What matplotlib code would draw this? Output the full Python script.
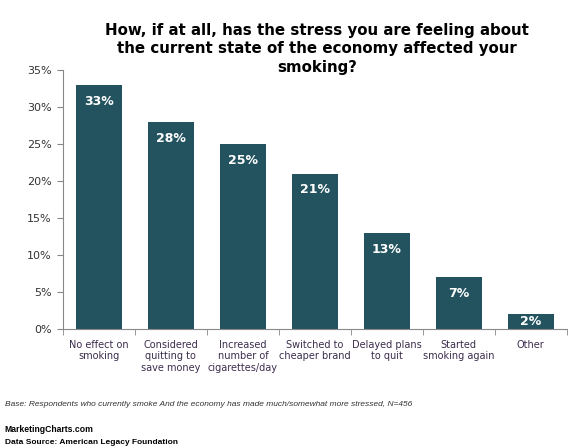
import matplotlib
matplotlib.use("Agg")
import matplotlib.pyplot as plt

categorias = ["No effect on\nsmoking", "Considered\nquitting to\nsave money",
              "Increased\nnumber of\ncigarettes/day", "Switched to\ncheaper brand",
              "Delayed plans\nto quit", "Started\nsmoking again", "Other"]
valores = [33, 28, 25, 21, 13, 7, 2]
ticks_y = [0, 5, 10, 15, 20, 25, 30, 35]

color_barra = "#23535f"
color_texto = "#333333"

fig = plt.figure(figsize=(5.85, 4.47), dpi=100)
ax = fig.add_axes([0.1077, 0.264, 0.861, 0.579])

x = list(range(len(valores)))
ax.bar(x, valores, width=0.64, color=color_barra)
for xi, v in zip(x, valores):
    # etiqueta dentro de la barra, ~15 px bajo el borde superior
    ax.text(xi, max(v - 2.2, 1.05), f"{v}%", ha="center", va="center",
            color="white", fontsize=9, fontweight="bold")

ax.set_xlim(-0.5, len(valores) - 0.5)
ax.set_ylim(0, 35)
ax.set_yticks(ticks_y)
ax.set_yticklabels([f"{t}%" for t in ticks_y], fontsize=8, color=color_texto)
ax.set_xticks(x)
ax.set_xticklabels(categorias, fontsize=7, color="#3b2d4d", linespacing=1.15)
ax.tick_params(axis="x", length=0, pad=8)
ax.set_xticks([i + 0.5 for i in range(-1, len(valores))], minor=True)
ax.tick_params(axis="x", which="minor", length=4, color="#888888")
ax.tick_params(axis="y", length=4, color="#888888", pad=4)
for lado in ["top", "right"]:
    ax.spines[lado].set_visible(False)
for lado in ["left", "bottom"]:
    ax.spines[lado].set_color("#888888")

fig.text(0.542, 0.949, "How, if at all, has the stress you are feeling about\n"
         "the current state of the economy affected your\nsmoking?",
         ha="center", va="top", fontsize=10.8, fontweight="bold",
         color="black", linespacing=1.3)

fig.text(0.008, 0.092, "Base: Respondents who currently smoke And the economy has made "
         "much/somewhat more stressed, N=456", fontsize=6, style="italic",
         color="#333333", family="Liberation Sans", va="baseline")
fig.text(0.008, 0.034, "MarketingCharts.com", fontsize=6.2, fontweight="bold",
         family="Liberation Sans", va="baseline")
fig.text(0.008, 0.007, "Data Source: American Legacy Foundation", fontsize=6,
         fontweight="bold", family="Liberation Sans", va="baseline")

fig.savefig("out.png", dpi=100)
